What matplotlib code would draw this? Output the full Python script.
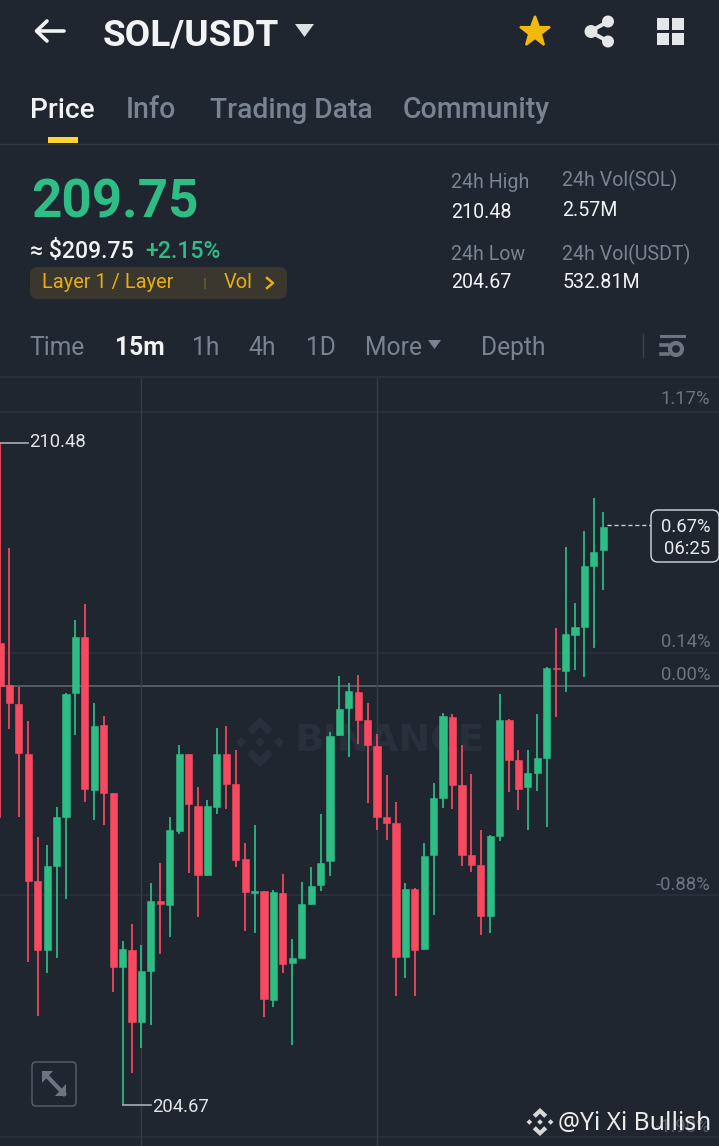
import matplotlib
matplotlib.use("Agg")
import matplotlib.pyplot as plt
from matplotlib.patches import FancyBboxPatch, Polygon, Circle, Rectangle

plt.rcParams['font.family'] = ['Roboto', 'DejaVu Sans']

opens = [208.73,208.36,208.19,207.75,206.64,206.03,206.77,207.20,208.29,208.78,
         207.44,208.01,207.41,205.88,206.03,205.40,205.85,206.46,206.43,207.08,
         207.75,207.30,206.69,207.29,207.75,207.49,206.83,206.53,206.55,205.59,
         206.53,205.92,205.96,206.44,206.60,206.81,207.92,208.16,208.30,208.05,
         207.82,207.20,207.15,205.97,206.57,206.04,206.87,207.37,208.08,207.48,
         206.87,206.78,206.33,207.03,208.05,207.70,207.46,207.59,207.72,208.51,
         208.48,208.80,208.87,209.40,209.54]
closes = [208.35,208.20,207.76,206.64,206.03,206.77,207.20,208.28,208.78,207.45,
          208.00,207.41,205.88,206.04,205.40,205.85,206.46,206.44,207.09,207.75,
          207.31,206.69,207.30,207.75,207.49,206.82,206.54,206.55,205.60,206.54,
          205.91,205.96,206.44,206.59,206.80,207.91,208.15,208.31,208.05,207.83,
          207.20,207.15,205.97,206.57,206.03,206.86,207.37,208.09,207.48,206.87,
          206.78,206.33,207.03,208.05,207.70,207.45,207.59,207.72,208.51,208.50,
          208.81,208.87,209.40,209.53,209.75]
highs = [210.48,209.56,208.34,208.04,207.02,206.95,207.29,208.29,208.93,209.07,
         208.20,208.09,207.41,206.11,206.26,206.08,206.62,206.80,207.20,207.83,
         207.75,207.46,207.35,207.98,208.00,207.79,206.97,207.13,206.55,206.56,
         206.70,206.13,206.63,206.76,207.23,207.95,208.44,208.38,208.45,208.20,
         207.93,207.57,207.33,206.62,206.58,206.97,207.50,208.11,208.10,207.83,
         207.58,207.09,207.04,208.28,208.06,207.79,207.79,208.10,208.52,208.86,
         209.57,209.08,209.71,210.00,209.88]
lows = [207.19,207.97,207.20,205.93,205.45,205.83,205.96,206.48,207.92,207.33,
        207.17,207.13,205.66,204.67,204.95,205.17,205.37,206.00,206.15,207.05,
        206.71,206.32,206.68,207.23,207.27,206.76,206.20,206.18,205.44,205.53,
        205.83,205.20,205.96,206.43,206.55,206.68,207.91,207.73,207.84,207.32,
        207.09,207.00,205.63,205.79,205.63,206.03,206.34,207.28,207.27,206.77,
        206.72,206.16,206.18,206.99,207.42,207.26,207.09,207.43,207.11,208.08,
        208.30,208.49,208.43,208.68,209.19]

ref_price = 208.35
pct_levels = [1.155, 0.14, 0.00, -0.88, -1.90]
pct_labels = ['1.17%', '0.14%', '0.00%', '-0.88%', '-1.90%']
high_24h = 210.48
low_24h = 204.67
last_price = 209.75
last_pct = "0.67%"
countdown = "06:25"

BG = '#1F2630'
GREEN = '#2EBD85'
RED = '#F84960'
GREY = '#7A8392'
AXIS = '#6C7482'
WHITE = '#F2F3F5'
YELLOW = '#F0B90B'

W, H = 719, 1146
fig = plt.figure(figsize=(W/100, H/100), dpi=100, facecolor=BG)

ax_bg = fig.add_axes([0, 0, 1, 1], zorder=0)
ax_bg.set_xlim(0, W); ax_bg.set_ylim(H, 0); ax_bg.axis('off')

ax = fig.add_axes([0, 0, 1, (H-377)/H], zorder=1)
ax.patch.set_alpha(0)
ax.set_xlim(0, W/9.427)
ax.set_ylim(ref_price-(H-686)/113.9, ref_price+(686-377)/113.9)
ax.axis('off')

ui = fig.add_axes([0, 0, 1, 1], zorder=2)
ui.patch.set_alpha(0)
ui.set_xlim(0, W); ui.set_ylim(H, 0); ui.axis('off')


def T(a, x, y, s, px, color=WHITE, weight='normal', ha='left', va='center', **kw):
    return a.text(x, y+2, s, fontsize=px*0.72, color=color, fontweight=weight, ha=ha, va=va, **kw)


def logo(a, cx, cy, r, color):
    def P(pts):
        a.add_patch(Polygon([(cx+r*u, cy+r*v) for u, v in pts], closed=True, fc=color, ec='none'))
    P([(0, -.2), (.2, 0), (0, .2), (-.2, 0)])
    for sx in (-.76, .76):
        P([(sx, -.2), (sx+.2, 0), (sx, .2), (sx-.2, 0)])
    for sy in (1, -1):
        P([(0, -1*sy), (.52, -.52*sy), (.3, -.3*sy), (0, -.6*sy), (-.3, -.3*sy), (-.52, -.52*sy)])


# header
ui.plot([37, 64], [31, 31], color=WHITE, lw=2.6, solid_capstyle='round')
ui.plot([47, 36.5, 47], [21, 31, 41], color=WHITE, lw=2.6, solid_capstyle='round', solid_joinstyle='round')
T(ui, 103, 33, 'SOL/USDT', 37, WHITE, 'bold')
ui.add_patch(Polygon([(295, 24), (314, 24), (304.5, 37)], closed=True, fc='#DDE0E4', ec='none'))
ui.plot([535], [32], marker='*', ms=23, color=YELLOW, mec=YELLOW, mew=1.5, ls='none')
ui.plot([609, 590, 609], [21, 31.5, 42], color='#E4E6EA', lw=2.8)
for cx, cy, r in [(608, 21.5, 6), (591, 31.5, 6.5), (608, 41.5, 6)]:
    ui.add_patch(Circle((cx, cy), r, fc='#E4E6EA', ec='none'))
for x0 in (657, 672):
    for y0 in (18, 33):
        ui.add_patch(Rectangle((x0, y0), 12, 12, fc='#E4E6EA', ec='none'))

# tabs
T(ui, 30, 108, 'Price', 28, WHITE, 'medium')
T(ui, 126, 108, 'Info', 28.5, GREY, 'medium')
T(ui, 210, 108, 'Trading Data', 28.2, GREY, 'medium')
T(ui, 403, 108, 'Community', 28.5, GREY, 'medium')
ui.add_patch(Rectangle((48, 137), 30, 6, fc='#FCD535', ec='none'))
ui.plot([0, W], [143.5, 143.5], color='#333A46', lw=1)

# price block
T(ui, 31, 201, '209.75', 53, GREEN, 'bold')
T(ui, 30, 250, '≈ $209.75', 23, WHITE, 'medium')
T(ui, 145, 250, '+2.15%', 23, GREEN, 'medium')
ui.add_patch(FancyBboxPatch((36, 273), 245, 20, boxstyle='round,pad=6,rounding_size=8', fc='#3A372F', ec='none'))
T(ui, 42, 281, 'Layer 1 / Layer', 20, '#E6AE12')
ui.plot([205, 205], [279, 288], color='#6B5E2B', lw=1.2)
T(ui, 224, 281, 'Vol', 20, '#E6AE12')
ui.plot([267, 273, 267], [278, 283, 288], color='#E6AE12', lw=1.8)

T(ui, 451, 181, '24h High', 19.6, GREY)
T(ui, 451, 210, '210.48', 19.6, WHITE)
T(ui, 562, 178, '24h Vol(SOL)', 19.6, GREY)
T(ui, 562, 208, '2.57M', 19.6, WHITE)
T(ui, 451, 253, '24h Low', 19.6, GREY)
T(ui, 451, 281, '204.67', 19.6, WHITE)
T(ui, 562, 252, '24h Vol(USDT)', 19.6, GREY)
T(ui, 562, 280, '532.81M', 19.6, WHITE)

# interval row
for x, s in [(29, 'Time'), (192, '1h'), (248, '4h'), (306, '1D'), (365, 'More'), (481, 'Depth')]:
    T(ui, x, 346, s, 24.6, GREY)
T(ui, 115, 346, '15m', 24.6, WHITE, 'bold')
ui.add_patch(Polygon([(428, 340), (441, 340), (434.5, 349)], closed=True, fc=GREY, ec='none'))
ui.plot([643, 643], [334, 357], color='#3A414D', lw=1)
ui.plot([661, 684], [336, 336], color=AXIS, lw=2.2)
ui.plot([661, 668], [345, 345], color=AXIS, lw=2.6)
ui.plot([661, 668], [354, 354], color=AXIS, lw=2.6)
ui.add_patch(Circle((676, 349), 6, fc='none', ec=AXIS, lw=3))
ui.plot([0, W], [376.5, 376.5], color='#2C333F', lw=1.2)

# watermark and axis labels under the candles
logo(ax_bg, 260, 742, 25, '#2A303B')
ax_bg.text(295, 742, 'BINANCE', fontsize=38*0.72, color='#2A303B', fontweight='bold',
           family='DejaVu Sans', va='center')

# grid
for p in pct_levels:
    col, lw = ('#555C68', 1.4) if p == 0 else ('#2B323D', 1.2)
    ax.axhline(ref_price*(1+p/100), color=col, lw=lw, zorder=1)
for xv in (15, 40):
    ax.axvline(xv, color='#343B47', lw=1, zorder=1)

# candles
xs = list(range(len(opens)))
cols = [GREEN if c >= o else RED for o, c in zip(opens, closes)]
ax.vlines(xs, lows, highs, colors=cols, lw=1.25, zorder=3)
ax.bar(xs, [max(abs(c-o), 0.012) for o, c in zip(opens, closes)],
       bottom=[min(o, c) for o, c in zip(opens, closes)],
       width=0.76, color=cols, edgecolor=cols, linewidth=0.4, zorder=4)

# axis labels
for s, y in zip(pct_labels[:4], (397, 640, 673, 883)):
    T(ui, 710, y, s, 18.5, AXIS, ha='right')
T(ax_bg, 710, 1125, pct_labels[4], 18.5, '#555C68', ha='right')

# high/low markers
ax.plot([0, 28/9.427], [high_24h, high_24h], color='#A9ADB4', lw=1.2, zorder=5)
ax.text(29.5/9.427, high_24h+0.01, f'{high_24h:.2f}', fontsize=18.5*0.72, color='#E2E4E8', va='center', zorder=5)
ax.plot([13, 151/9.427], [low_24h, low_24h], color='#A9ADB4', lw=1.2, zorder=5)
ax.text(152.5/9.427, low_24h-0.012, f'{low_24h:.2f}', fontsize=18.5*0.72, color='#E2E4E8', va='center', zorder=5)

# last price tag
ax.plot([64.4, 651/9.427], [last_price+0.01, last_price+0.01], color='#C9CCD2', lw=1, ls=(0, (3, 2)), zorder=5)
ui.add_patch(FancyBboxPatch((656, 515), 58, 42, boxstyle='round,pad=5,rounding_size=7', fc=BG, ec='#D8DADF', lw=1))
T(ui, 710, 525, last_pct, 18.5, '#E8E9EC', ha='right')
T(ui, 710, 547, countdown, 18.5, '#E8E9EC', ha='right')

# expand button
ui.add_patch(FancyBboxPatch((34, 1064), 40, 40, boxstyle='round,pad=2,rounding_size=4', fc=BG, ec='#5A616D', lw=1))
ui.plot([45, 64], [1074, 1094], color=AXIS, lw=3)
ui.add_patch(Polygon([(42, 1071), (53, 1071), (42, 1083)], closed=True, fc=AXIS, ec='none'))
ui.add_patch(Polygon([(66, 1096), (55, 1096), (66, 1084)], closed=True, fc=AXIS, ec='none'))

# credit
logo(ui, 540, 1122, 14, '#D8D8D8')
ui.text(558, 1124, '@Yi Xi Bullish', fontsize=24.6*0.72, color='#ECECEC', family=['Noto Sans', 'DejaVu Sans'], va='center')

fig.savefig('out.png', dpi=100, facecolor=BG)
